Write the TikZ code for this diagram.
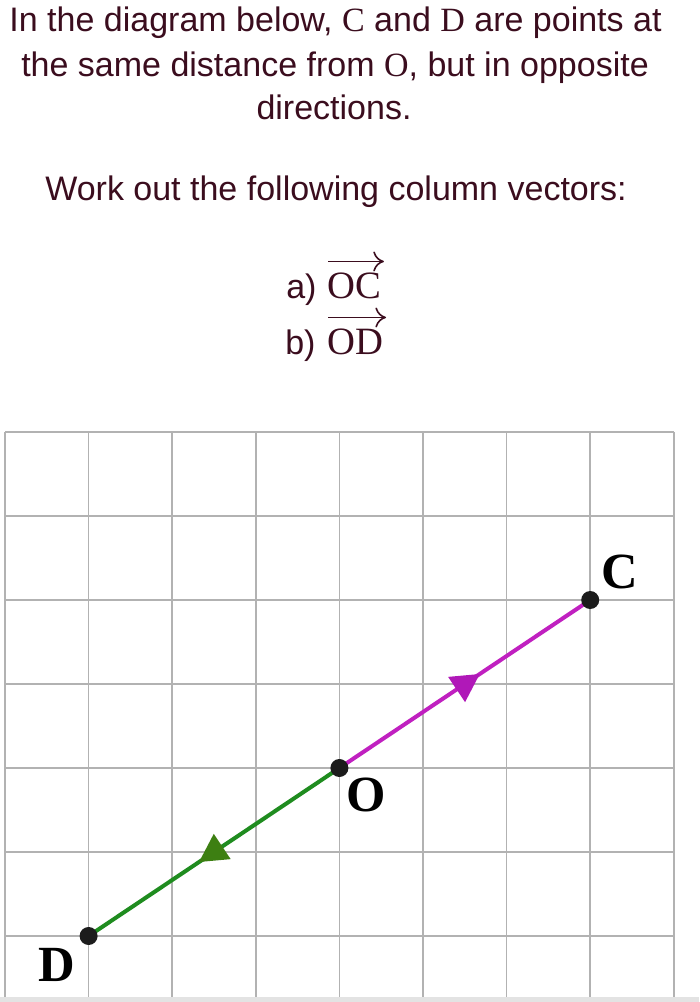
\documentclass[tikz,border=0pt]{standalone}
\usepackage{fontspec}
\setmainfont{Liberation Sans}
\newfontfamily\serif{Liberation Serif}
\usetikzlibrary{decorations.markings,arrows.meta}
\definecolor{txt}{HTML}{3B0D1E}
\definecolor{gridc}{HTML}{B2B2B2}
\definecolor{mag}{HTML}{C020C0}
\definecolor{grn}{HTML}{1F8C1F}
\definecolor{grnh}{HTML}{3D7F12}
\definecolor{magh}{HTML}{B018B8}
\definecolor{dotc}{HTML}{1C1C1C}
\tikzset{
  gridline/.style={draw=gridc, line width=1.1pt},
  para/.style={text=txt, font=\fontsize{25.5}{30}\selectfont, anchor=base, inner sep=0pt},
  vecser/.style={text=txt, font=\serif\fontsize{29}{32}\selectfont, anchor=base west, inner sep=0pt},
  vecarrow/.style={draw=txt, line width=1.2pt, -{Computer Modern Rightarrow[length=8pt,width=15pt]}},
  ptdot/.style={circle, fill=dotc, minimum size=13.5pt, inner sep=0pt},
  ptlabel/.style={text=black, font=\serif\bfseries\fontsize{38}{40}\selectfont, inner sep=0pt},
  vecline/.style={line width=3pt, postaction={decorate}},
}
\begin{document}
\begin{tikzpicture}[x=0.75pt,y=-0.75pt]
\useasboundingbox (0,0) rectangle (699,1002);
\fill[white] (0,0) rectangle (699,1002);
% text
\node[para] (l1) at (335.5,32) {In the diagram below, {\serif C} and {\serif D} are points at};
\node[para] (l2) at (335,77) {the same distance from {\serif O}, but in opposite};
\node[para] (l3) at (334,120) {directions.};
\node[para] (l4) at (336,200) {Work out the following column vectors:};
\node[para, anchor=base west] (qa) at (286,298) {a)};
\node[vecser] (oc) at (327,298) {OC};
\draw[vecarrow] ([xshift=1pt,yshift=8pt]oc.north west) -- ([xshift=2pt,yshift=8pt]oc.north east);
\node[para, anchor=base west] (qb) at (285,354) {b)};
\node[vecser] (od) at (327,354) {OD};
\draw[vecarrow] ([xshift=1pt,yshift=8pt]od.north west) -- ([xshift=2pt,yshift=8pt]od.north east);
% grid
\foreach \i in {0,...,8} \draw[gridline] ({5+83.6*\i},432) -- ({5+83.6*\i},1002);
\foreach \j in {0,...,6} \draw[gridline] (5,{432+84*\j}) -- (673.8,{432+84*\j});
\fill[gray!22] (0,997) rectangle (699,1002);
% points
\coordinate (C) at (590.2,600);
\coordinate (O) at (339.4,768);
\coordinate (D) at (88.6,936);
\draw[vecline, draw=mag, decoration={markings, mark=at position 0.56 with {\arrow[magh]{Triangle[length=21pt,width=22pt]}}}] (O) -- (C);
\draw[vecline, draw=grn, decoration={markings, mark=at position 0.56 with {\arrow[grnh]{Triangle[length=21pt,width=22pt]}}}] (O) -- (D);
\node[ptdot] (Cd) at (C) {};
\node[ptdot] (Od) at (O) {};
\node[ptdot] (Dd) at (D) {};
\node[ptlabel] (Cl) at (620,572) {C};
\node[ptlabel] (Ol) at (366,795) {O};
\node[ptlabel] (Dl) at (57,965) {D};
\end{tikzpicture}
\end{document}
